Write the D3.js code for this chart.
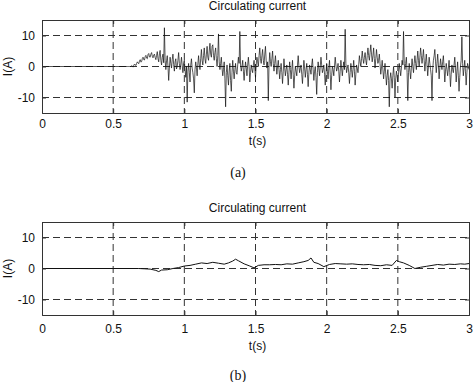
<!DOCTYPE html>
<html><head><meta charset="utf-8">
<script src="https://cdn.jsdelivr.net/npm/d3@7"></script>
<style>body{margin:0;background:#fff}svg{display:block}</style>
</head><body>
<script>
const xTicks = [0, 0.5, 1, 1.5, 2, 2.5, 3];
const xTickLabels = ["0", "0.5", "1", "1.5", "2", "2.5", "3"];
const yTicks = [-10, 0, 10];
const yTickLabels = ["-10", "0", "10"];
const titleText = "Circulating current";
const xLabel = "t(s)";
const yLabel = "I(A)";
const panelLabels = ["(a)", "(b)"];

// (a) noisy circulating current: flat zero, then samples every 0.005 s from 0.60 s
const aFlatTimes = [0, 0.60];
const aFlatValues = [0, 0];
const aStart = 0.60, aStep = 0.005;
const aValues = [
 0,0,0,0,0,0,0.3,0.1,-0.2,0.4,
 0.8,0.5,0.3,1.0,1.5,1.1,0.9,1.8,2.2,1.4,
 1.6,2.6,3.0,2.2,2.1,3.2,3.6,2.7,2.5,3.9,
 4.2,3.1,3.0,4.0,4.5,3.3,2.8,3.7,4.0,2.9,
 2.2,3.6,4.8,2.5,1.5,4.1,5.2,2.0,0.5,3.0,
 4.0,1.2,12.5,2.0,-1.0,1.8,3.5,0.2,-4.5,-0.5,
 3.0,1.0,-0.5,2.2,4.0,0.6,-1.5,1.5,2.5,-0.8,
 0.0,2.0,4.5,1.0,-1.0,0.8,3.0,0.3,-2.0,1.2,
 2.0,-1.2,-3.5,0.0,-11.5,-1.5,1.0,-2.0,-5.0,0.5,
 2.5,-0.5,-2.0,-4.0,-8.5,-1.0,1.5,-0.5,-3.0,0.8,
 3.5,0.5,-1.0,2.5,5.5,2.0,0.5,3.5,6.0,2.5,
 1.0,4.0,6.5,3.0,2.0,5.0,7.5,4.0,3.0,6.5,
 7.0,3.5,2.0,4.5,6.0,2.5,0.0,3.5,10.5,1.5,
 -1.0,1.0,3.0,-0.5,-3.0,-1.0,1.5,-4.0,-13.0,-2.0,
 0.5,-3.0,-6.0,-1.5,1.0,-4.5,-8.0,-2.0,2.0,-1.5,
 -4.0,-1.0,1.0,-2.0,-2.5,0.5,3.0,1.0,11.3,0.5,
 -1.5,0.0,2.0,-1.5,-4.5,-1.0,1.5,-0.5,-3.0,0.5,
 3.0,0.0,-5.0,-2.0,0.5,-1.0,-2.0,0.5,2.0,-0.5,
 -3.5,0.5,3.0,1.5,0.0,3.5,6.0,2.5,1.0,3.5,
 5.5,2.0,0.5,4.0,6.5,2.0,-0.5,1.5,-11.0,0.5,
 4.5,1.5,0.0,2.5,5.0,1.0,-1.5,1.0,3.5,0.5,
 -2.5,0.0,2.0,-1.0,-4.0,-1.0,1.0,-2.0,-5.5,-1.5,
 2.5,-0.5,-3.0,-1.0,0.5,-2.5,-6.0,-2.0,1.5,-1.0,
 -4.0,-1.0,2.0,-2.5,-7.0,-3.0,0.0,-1.5,-3.0,0.5,
 3.5,0.0,-2.0,-0.5,0.5,-2.5,-5.5,-1.5,2.0,-0.5,
 -3.5,-1.0,1.0,-2.5,-6.5,-2.0,0.5,-1.0,-2.5,0.5,
 2.5,-1.0,-4.5,-1.5,0.0,-3.5,-9.0,-2.0,1.5,-0.5,
 -3.0,0.0,3.0,0.5,-2.0,-1.0,0.5,-2.5,-6.0,-2.0,
 1.0,-1.5,-4.0,-0.5,2.0,-2.5,-7.5,-3.0,0.0,-1.0,
 -3.0,0.0,3.0,0.5,-1.5,-0.5,1.0,-1.5,-5.0,-1.5,
 2.0,-0.5,-3.0,-0.5,1.5,-1.0,12.0,1.0,-2.0,-0.5,
 0.5,-2.0,-5.5,-2.0,1.0,-1.0,-3.5,-1.0,2.0,-1.5,
 -6.0,-2.5,0.5,-0.5,-2.0,0.5,3.5,1.5,0.0,2.5,
 5.0,2.5,1.0,3.0,4.5,2.0,0.5,3.5,6.0,3.5,
 2.0,4.5,7.0,4.0,1.5,3.5,6.0,2.5,-0.5,2.5,
 5.5,3.0,1.0,2.0,4.0,1.0,-2.5,-0.5,2.0,-1.0,
 -4.0,-1.5,1.0,-2.5,-6.0,-3.0,-1.0,-4.5,-13.0,-4.0,
 -2.0,-4.0,-7.0,-3.0,0.0,-3.5,-10.0,-4.0,-1.5,-3.0,
 -5.0,-2.0,1.0,-1.0,-3.0,-0.5,2.0,0.5,11.3,1.0,
 -1.0,1.0,3.0,-2.0,-11.0,-2.0,1.0,-1.5,-4.0,-0.5,
 2.5,0.0,-2.0,1.0,3.5,1.0,-1.0,2.0,5.0,2.0,
 0.0,3.0,6.0,3.5,1.0,3.0,5.5,2.0,-1.5,1.5,
 4.0,0.5,-3.0,0.0,3.0,1.0,-1.0,-3.0,-11.0,-1.0,
 2.0,3.5,5.5,1.5,-2.0,1.0,4.0,0.5,-4.0,-0.5,
 2.5,0.5,-1.0,1.5,3.5,-0.5,-5.0,-1.5,1.0,-1.0,
 -3.0,-0.5,2.0,-2.0,-6.5,-2.5,0.5,-1.0,-2.0,0.5,
 3.0,-0.5,-5.0,-1.5,1.5,-3.0,-8.0,-3.5,0.0,2.0,
 9.6,1.0,-3.0,-0.5,2.0,-1.5,-6.0,-2.0,1.0,0.0,
 -1.0
];

// (b) smooth circulating current
const bTimes = [0,0.68,0.72,0.76,0.80,0.82,0.84,0.88,0.92,0.96,1.00,1.04,1.08,1.12,1.16,1.20,1.24,1.28,1.31,1.34,1.36,1.38,1.42,1.46,1.49,1.52,1.56,1.60,1.64,1.68,1.72,1.76,1.80,1.84,1.87,1.89,1.91,1.94,1.98,2.02,2.06,2.10,2.14,2.18,2.22,2.26,2.30,2.34,2.38,2.42,2.46,2.49,2.51,2.54,2.58,2.62,2.66,2.70,2.74,2.78,2.82,2.86,2.90,2.94,2.97,3.00];
const bValues = [0,0,-0.1,-0.2,-0.6,-1.0,-0.5,-0.4,0,0.3,0.8,1.0,1.4,1.8,1.6,2.0,1.7,1.4,1.8,2.4,3.0,2.5,1.5,0.8,0.2,1.0,1.2,1.2,1.3,1.2,1.5,1.4,1.8,2.2,2.6,3.4,2.0,1.6,0.6,1.3,1.6,1.5,1.4,1.5,1.3,1.2,1.3,1.0,0.9,1.2,1.0,2.6,2.2,1.8,1.0,0.0,0.4,0.7,1.0,1.3,1.1,1.4,1.3,1.5,1.4,1.6];

const W = 474, H = 382;
const svg = d3.select("body").append("svg").attr("width", W).attr("height", H);
const font = "'Liberation Sans', Arial, Helvetica, sans-serif";
const fs = 12;

const aData = aFlatTimes.map((t, i) => ({t, v: aFlatValues[i]}))
  .concat(aValues.map((v, i) => ({t: aStart + i * aStep, v})));
const bData = bTimes.map((t, i) => ({t, v: bValues[i]}));

const panels = [
  {top: 20, data: aData, sw: 0.7, titleY: 10, tickY: 128, xlabY: 145, panelY: 177, label: panelLabels[0]},
  {top: 222, data: bData, sw: 1, titleY: 212, tickY: 333, xlabY: 350, panelY: 380, label: panelLabels[1]}
];

const left = 42, right = 469, ph = 93;

panels.forEach(p => {
  const x = d3.scaleLinear().domain([0, 3]).range([left, right]);
  const y = d3.scaleLinear().domain([-15, 15]).range([p.top + ph, p.top]);
  const g = svg.append("g");

  g.selectAll(".vg").data(xTicks.slice(1, -1)).enter().append("line")
    .attr("x1", d => x(d)).attr("x2", d => x(d)).attr("y1", p.top).attr("y2", p.top + ph)
    .attr("stroke", "#333").attr("stroke-width", 1).attr("stroke-dasharray", "7,4");
  g.selectAll(".hg").data(yTicks).enter().append("line")
    .attr("x1", left).attr("x2", right).attr("y1", d => y(d)).attr("y2", d => y(d))
    .attr("stroke", "#333").attr("stroke-width", 1).attr("stroke-dasharray", "7,4");

  const line = d3.line().x(d => x(d.t)).y(d => y(d.v));
  g.append("path").datum(p.data).attr("d", line)
    .attr("fill", "none").attr("stroke", "#111").attr("stroke-width", p.sw);

  const xb = d3.axisBottom(x).tickValues(xTicks).tickSize(-4).tickFormat((d, i) => xTickLabels[i]).tickPadding(8);
  const xt = d3.axisTop(x).tickValues(xTicks).tickSize(-4).tickFormat("");
  const yl = d3.axisLeft(y).tickValues(yTicks).tickSize(-4).tickFormat((d, i) => yTickLabels[i]).tickPadding(7);
  const yr = d3.axisRight(y).tickValues(yTicks).tickSize(-4).tickFormat("");
  const ax = [
    g.append("g").attr("transform", `translate(0,${p.top + ph})`).call(xb),
    g.append("g").attr("transform", `translate(0,${p.top})`).call(xt),
    g.append("g").attr("transform", `translate(${left},0)`).call(yl),
    g.append("g").attr("transform", `translate(${right},0)`).call(yr)
  ];
  ax.forEach(a => {
    a.select(".domain").attr("stroke", "#333");
    a.selectAll(".tick line").attr("stroke", "#333");
    a.selectAll("text").attr("font-family", font).attr("font-size", fs).attr("fill", "#111");
  });
  ax[0].selectAll("text").attr("y", null).attr("dy", null)
    .attr("transform", `translate(0,${p.tickY - (p.top + ph)})`);
  ax[2].selectAll("text").attr("dy", "0.35em");

  svg.append("text").attr("x", (left + right) / 2 + 2).attr("y", p.titleY)
    .attr("text-anchor", "middle").attr("font-family", font).attr("font-size", fs).attr("fill", "#111")
    .text(titleText);
  svg.append("text").attr("x", (left + right) / 2 + 2).attr("y", p.xlabY)
    .attr("text-anchor", "middle").attr("font-family", font).attr("font-size", fs).attr("fill", "#111")
    .text(xLabel);
  svg.append("text").attr("transform", `translate(12,${y(0)}) rotate(-90)`)
    .attr("text-anchor", "middle").attr("font-family", font).attr("font-size", fs).attr("fill", "#111")
    .text(yLabel);
  svg.append("text").attr("x", 238).attr("y", p.panelY)
    .attr("text-anchor", "middle").attr("font-family", "'Liberation Serif', 'Times New Roman', serif")
    .attr("font-size", 14).attr("fill", "#111").text(p.label);
});
</script>
</body></html>
